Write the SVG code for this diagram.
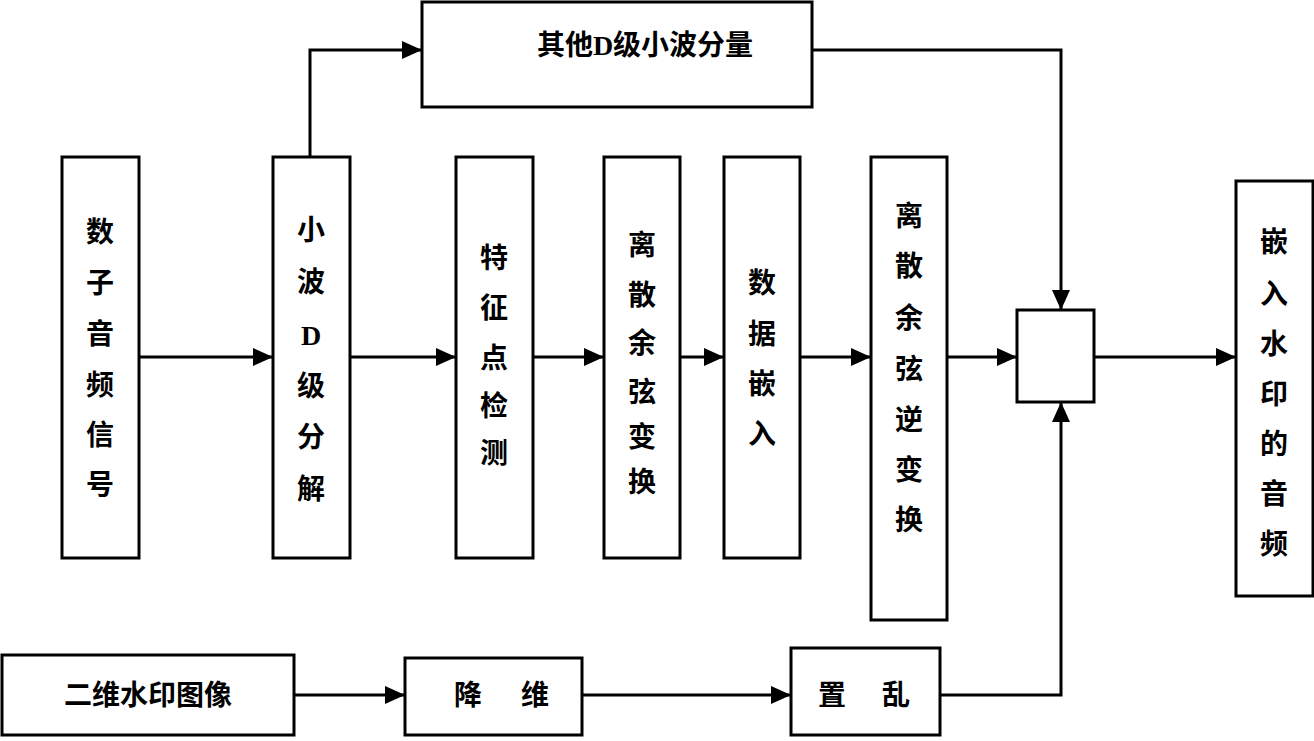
<svg xmlns="http://www.w3.org/2000/svg" width="1314" height="741" viewBox="0 0 1314 741">
<defs>
<style>
.b{fill:#fff;stroke:#000;stroke-width:3}
.t{font-family:"Liberation Serif","Noto Sans CJK SC",serif;font-size:28px;font-weight:bold;text-anchor:middle;dominant-baseline:central}
.c{fill:none;stroke:#000;stroke-width:3}
</style>
<marker id="m" viewBox="0 0 20 20" refX="20" refY="10" markerWidth="20" markerHeight="20" markerUnits="userSpaceOnUse" orient="auto"><path d="M0,1L20,10L0,19z"/></marker>
</defs>
<rect width="1314" height="741" fill="#fff"/>
<g id="connectors">
<path class="c" marker-end="url(#m)" d="M139,357H273"/>
<path class="c" marker-end="url(#m)" d="M350,357H456"/>
<path class="c" marker-end="url(#m)" d="M533,357H604"/>
<path class="c" marker-end="url(#m)" d="M680,357H724"/>
<path class="c" marker-end="url(#m)" d="M800,357H871"/>
<path class="c" marker-end="url(#m)" d="M947,357H1017"/>
<path class="c" marker-end="url(#m)" d="M1094,357H1236"/>
<path class="c" marker-end="url(#m)" d="M310,157V50H422"/>
<path class="c" marker-end="url(#m)" d="M812,50H1061V310"/>
<path class="c" marker-end="url(#m)" d="M294,695H405"/>
<path class="c" marker-end="url(#m)" d="M582,695H791"/>
<path class="c" marker-end="url(#m)" d="M940,695H1061V402"/>
</g>
<g id="n1"><rect class="b" x="62" y="157" width="77" height="401"/><text class="t"><tspan x="100" y="232">数</tspan><tspan x="100" y="283">子</tspan><tspan x="100" y="334">音</tspan><tspan x="100" y="385">频</tspan><tspan x="100" y="435">信</tspan><tspan x="100" y="485">号</tspan></text></g>
<g id="n2"><rect class="b" x="273" y="157" width="77" height="401"/><text class="t"><tspan x="311" y="230">小</tspan><tspan x="311" y="282">波</tspan><tspan x="311" y="335">D</tspan><tspan x="311" y="386">级</tspan><tspan x="311" y="437">分</tspan><tspan x="311" y="489">解</tspan></text></g>
<g id="n3"><rect class="b" x="456" y="157" width="77" height="401"/><text class="t"><tspan x="494" y="258">特</tspan><tspan x="494" y="308">征</tspan><tspan x="494" y="358">点</tspan><tspan x="494" y="406">检</tspan><tspan x="494" y="453">测</tspan></text></g>
<g id="n4"><rect class="b" x="604" y="157" width="76" height="401"/><text class="t"><tspan x="642" y="245">离</tspan><tspan x="642" y="295">散</tspan><tspan x="642" y="343">余</tspan><tspan x="642" y="392">弦</tspan><tspan x="642" y="437">变</tspan><tspan x="642" y="482">换</tspan></text></g>
<g id="n5"><rect class="b" x="724" y="157" width="76" height="401"/><text class="t"><tspan x="762" y="283">数</tspan><tspan x="762" y="334">据</tspan><tspan x="762" y="384">嵌</tspan><tspan x="762" y="434">入</tspan></text></g>
<g id="n6"><rect class="b" x="871" y="157" width="76" height="463"/><text class="t"><tspan x="909" y="216">离</tspan><tspan x="909" y="266">散</tspan><tspan x="909" y="318">余</tspan><tspan x="909" y="369">弦</tspan><tspan x="909" y="420">逆</tspan><tspan x="909" y="470">变</tspan><tspan x="909" y="520">换</tspan></text></g>
<g id="n7"><rect class="b" x="1017" y="310" width="77" height="92"/></g>
<g id="n8"><rect class="b" x="1236" y="181" width="77" height="415"/><text class="t"><tspan x="1274" y="242">嵌</tspan><tspan x="1274" y="294">入</tspan><tspan x="1274" y="344">水</tspan><tspan x="1274" y="394">印</tspan><tspan x="1274" y="444">的</tspan><tspan x="1274" y="494">音</tspan><tspan x="1274" y="544">频</tspan></text></g>
<g id="n9"><rect class="b" x="422" y="2" width="390" height="105"/><text class="t" x="645" y="45">其他D级小波分量</text></g>
<g id="n10"><rect class="b" x="2" y="655" width="292" height="80"/><text class="t" x="148" y="695">二维水印图像</text></g>
<g id="n11"><rect class="b" x="405" y="658" width="177" height="77"/><text class="t"><tspan x="468" y="695">降</tspan><tspan x="535" y="695">维</tspan></text></g>
<g id="n12"><rect class="b" x="791" y="648" width="149" height="87"/><text class="t"><tspan x="832" y="695">置</tspan><tspan x="896" y="695">乱</tspan></text></g>
</svg>
